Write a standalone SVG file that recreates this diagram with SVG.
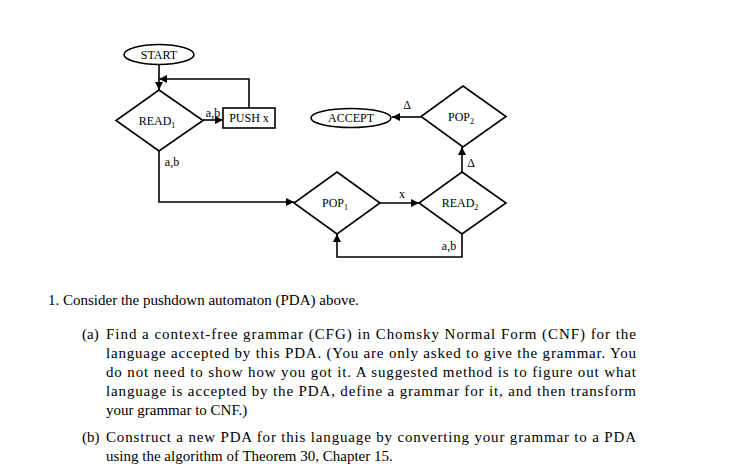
<svg xmlns="http://www.w3.org/2000/svg" width="736" height="476" viewBox="0 0 736 476">
<style>
.s{fill:#fff;stroke:#000;stroke-width:1.6}
.l{fill:none;stroke:#000;stroke-width:1.6}
.t{font-family:"Liberation Serif",serif;font-size:12px;text-anchor:middle}
.p{font-family:"Liberation Serif",serif;font-size:15px}
</style>
<defs><marker id="a" viewBox="0 0 6 6" refX="6" refY="3" markerWidth="5" markerHeight="5" orient="auto"><path d="M0,0L6,3L0,6z"/></marker></defs>
<rect width="736" height="476" fill="#fff"/>
<g id="connectors">
<path class="l" d="M159,64V90" marker-end="url(#a)"/>
<path class="l" d="M203,120H223" marker-end="url(#a)"/>
<path class="l" d="M249,108V79H159" marker-end="url(#a)"/>
<path class="l" d="M159,151V202H294" marker-end="url(#a)"/>
<path class="l" d="M380,203H419" marker-end="url(#a)"/>
<path class="l" d="M462,234V257H337V234" marker-end="url(#a)"/>
<path class="l" d="M462,172V147" marker-end="url(#a)"/>
<path class="l" d="M421,117H392" marker-end="url(#a)"/>
<text class="t" x="213" y="117">a,b</text>
<text class="t" x="172" y="166">a,b</text>
<text class="t" x="402" y="198">x</text>
<text class="t" x="449" y="250">a,b</text>
<text class="t" x="471" y="167">Δ</text>
<text class="t" x="407" y="109">Δ</text>
</g>
<g id="start"><ellipse class="s" cx="159" cy="54.5" rx="35" ry="10"/><text class="t" x="159" y="59">START</text></g>
<g id="read1"><path class="s" d="M159,90L203,120.5L159,151L116,120.5z"/><text class="t" x="157" y="125">READ<tspan font-size="8" dy="3">1</tspan></text></g>
<g id="push"><rect class="s" x="223" y="108" width="52" height="20"/><text class="t" x="249" y="122">PUSH x</text></g>
<g id="pop1"><path class="s" d="M337,172L380,203L337,234L294,203z"/><text class="t" x="335" y="207">POP<tspan font-size="8" dy="3">1</tspan></text></g>
<g id="read2"><path class="s" d="M462,172L506,203L462,234L419,203z"/><text class="t" x="460" y="207">READ<tspan font-size="8" dy="3">2</tspan></text></g>
<g id="pop2"><path class="s" d="M463,86L506,116.5L463,147L421,116.5z"/><text class="t" x="461" y="121">POP<tspan font-size="8" dy="3">2</tspan></text></g>
<g id="accept"><ellipse class="s" cx="351" cy="118" rx="40" ry="9.5"/><text class="t" x="351" y="122">ACCEPT</text></g>
<g id="text">
<text class="p" x="48" y="305">1.  Consider the pushdown automaton (PDA) above.</text>
<text class="p" x="82" y="339">(a)</text>
<text class="p" x="106" y="339" textLength="530" lengthAdjust="spacing">Find a context-free grammar (CFG) in Chomsky Normal Form (CNF) for the</text>
<text class="p" x="106" y="358" textLength="530" lengthAdjust="spacing">language accepted by this PDA. (You are only asked to give the grammar. You</text>
<text class="p" x="106" y="377" textLength="530" lengthAdjust="spacing">do not need to show how you got it. A suggested method is to figure out what</text>
<text class="p" x="106" y="396" textLength="530" lengthAdjust="spacing">language is accepted by the PDA, define a grammar for it, and then transform</text>
<text class="p" x="106" y="415">your grammar to CNF.)</text>
<text class="p" x="82" y="442">(b)</text>
<text class="p" x="106" y="442" textLength="530" lengthAdjust="spacing">Construct a new PDA for this language by converting your grammar to a PDA</text>
<text class="p" x="106" y="461">using the algorithm of Theorem 30, Chapter 15.</text>
</g>
</svg>
